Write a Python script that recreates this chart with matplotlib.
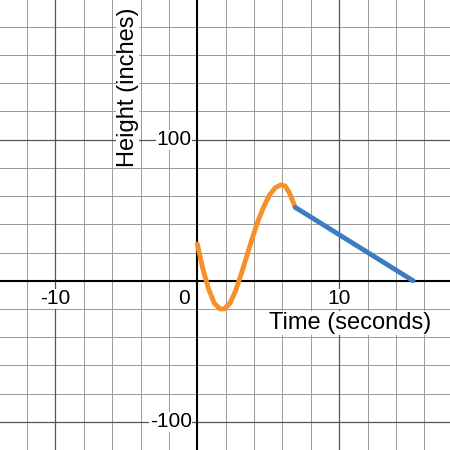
import matplotlib.pyplot as plt
import numpy as np

plt.rcParams['font.family'] = ['Liberation Sans', 'DejaVu Sans']

# orange segment
t_orange = [0, 0.4, 0.8, 1.2, 1.6, 1.9, 2.3, 2.7, 3.1, 3.5, 3.9, 4.3, 4.7, 5.1, 5.5, 5.9, 6.2, 6.5, 6.9]
h_orange = [26, 8, -6, -16, -20, -20, -16, -7, 5, 18, 31, 43, 53, 61, 66, 68, 67, 62, 52]
# blue segment
t_blue = [6.9, 15.2]
h_blue = [52, 0]

x_ticks = [-10, 10]
y_ticks = [100, -100]

fig = plt.figure(figsize=(4.5, 4.5), dpi=100)
ax = fig.add_axes([0, 0, 1, 1])
ax.set_xlim(-13.9, 17.8)
ax.set_ylim(-120, 199)

for xv in np.arange(-12, 18, 2):
    ax.axvline(xv, color='#999999', lw=0.7, zorder=0)
for yv in np.arange(-120, 200, 20):
    ax.axhline(yv, color='#999999', lw=0.7, zorder=0)
for xv in [-10, 10]:
    ax.axvline(xv, color='#555555', lw=0.9, zorder=0)
for yv in [-100, 100]:
    ax.axhline(yv, color='#555555', lw=0.9, zorder=0)
ax.axhline(0, color='black', lw=1.5, zorder=1)
ax.axvline(0, color='black', lw=1.5, zorder=1)

ax.plot(t_orange, h_orange, color='#f7902a', lw=3.5, solid_capstyle='round', zorder=3)
ax.plot(t_blue, h_blue, color='#3c7cc0', lw=3.5, solid_capstyle='round', zorder=3)

fs = 15
for xv in x_ticks:
    ax.text(xv, -6, str(xv), ha='center', va='top', fontsize=fs,
            bbox=dict(fc='white', ec='none', pad=0.5))
ax.text(-0.5, -6, '0', ha='right', va='top', fontsize=fs,
        bbox=dict(fc='white', ec='none', pad=0.5))
for yv in y_ticks:
    ax.text(-0.4, yv, str(yv), ha='right', va='center', fontsize=fs,
            bbox=dict(fc='white', ec='none', pad=0.5))

ax.text(16.5, -30, 'Time (seconds)', ha='right', va='center', fontsize=17,
        bbox=dict(fc='white', ec='none', pad=0.5))
ax.text(-4.9, 194, 'Height (inches)', ha='center', va='top', rotation=90, fontsize=17,
        bbox=dict(fc='white', ec='none', pad=0.5))

ax.axis('off')
fig.savefig('out.png', dpi=100)
